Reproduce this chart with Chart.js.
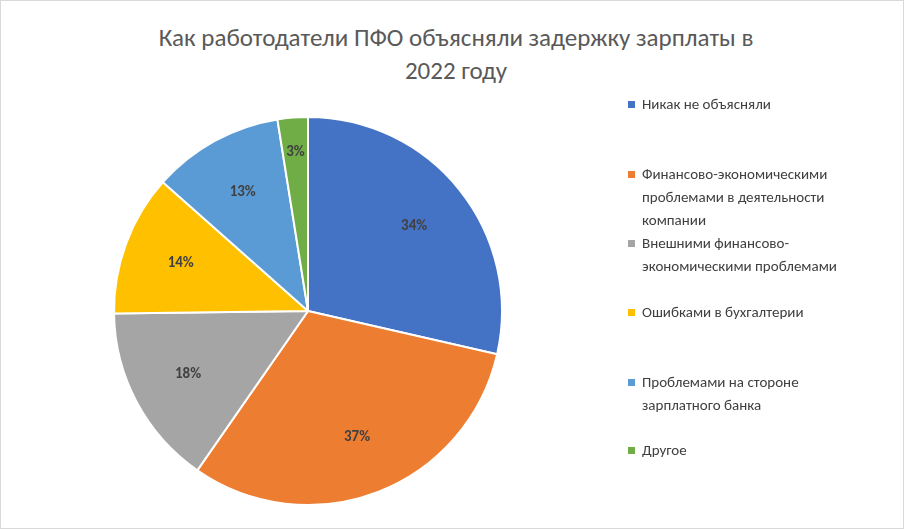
<!DOCTYPE html>
<html><head><meta charset="utf-8">
<script src="https://cdn.jsdelivr.net/npm/chart.js@4"></script>
<style>
body{margin:0;background:#fff;font-family:Calibri,"Liberation Sans","Noto Sans",sans-serif;}
#wrap{position:relative;width:902px;height:527px;border:1px solid #d9d9d9;}
#title{position:absolute;left:0;width:910px;top:20px;text-align:center;font-size:25px;line-height:33px;color:#595959;}
#legend{position:absolute;left:627px;top:92px;font-size:15px;line-height:23px;color:#404040;}
.li{position:absolute;left:0;width:280px;}
.li i{position:absolute;left:0;top:8px;width:7px;height:7px;}
.li span{display:block;margin-left:14px;}
canvas{position:absolute;left:0;top:0;}
</style></head><body>
<div id="wrap">
<div id="title">Как работодатели ПФО объясняли задержку зарплаты в<br>2022 году</div>
<canvas id="c" width="902" height="527"></canvas>
<div id="legend"></div>
</div>
<script>
const categories = ['Никак не объясняли', 'Финансово-экономическими проблемами в деятельности компании', 'Внешними финансово-экономическими проблемами', 'Ошибками в бухгалтерии', 'Проблемами на стороне зарплатного банка', 'Другое'];
const legendLines = [['Никак не объясняли'], ['Финансово-экономическими', 'проблемами в деятельности', 'компании'], ['Внешними финансово-', 'экономическими проблемами'], ['Ошибками в бухгалтерии'], ['Проблемами на стороне', 'зарплатного банка'], ['Другое']];
const values = [34, 37, 18, 14, 13, 3];
const colors = ['#4472c4', '#ed7d31', '#a5a5a5', '#ffc000', '#5b9bd5', '#70ad47'];
const legendTops = [0, 70, 139, 208, 278, 346];

const lg = document.getElementById('legend');
legendLines.forEach((lines, i) => {
  const d = document.createElement('div');
  d.className = 'li';
  d.style.top = legendTops[i] + 'px';
  d.innerHTML = '<i style="background:' + colors[i] + '"></i><span>' + lines.join('<br>') + '</span>';
  lg.appendChild(d);
});

const labelPlugin = {
  id: 'pieLabels',
  afterDatasetsDraw(chart) {
    const ctx = chart.ctx;
    const meta = chart.getDatasetMeta(0);
    ctx.save();
    ctx.font = 'bold 15px Calibri, "Liberation Sans", sans-serif';
    ctx.fillStyle = '#404040';
    ctx.textAlign = 'center';
    ctx.textBaseline = 'middle';
    meta.data.forEach((arc, i) => {
      const p = arc.getProps(['x', 'y', 'startAngle', 'endAngle', 'outerRadius'], true);
      const a = (p.startAngle + p.endAngle) / 2;
      const r = p.outerRadius * (values[i] < 5 ? 0.82 : 0.7);
      ctx.fillText(values[i] + '%', p.x + Math.cos(a) * r, p.y + Math.sin(a) * r);
    });
    ctx.restore();
  }
};

new Chart(document.getElementById('c'), {
  type: 'pie',
  data: { labels: categories, datasets: [{ data: values, backgroundColor: colors, borderColor: '#fff', borderWidth: 2 }] },
  options: {
    responsive: false,
    animation: false,
    layout: { padding: { top: 115, bottom: 22, left: 112, right: 400 } },
    plugins: { legend: { display: false }, tooltip: { enabled: false } }
  },
  plugins: [labelPlugin]
});
</script>
</body></html>
